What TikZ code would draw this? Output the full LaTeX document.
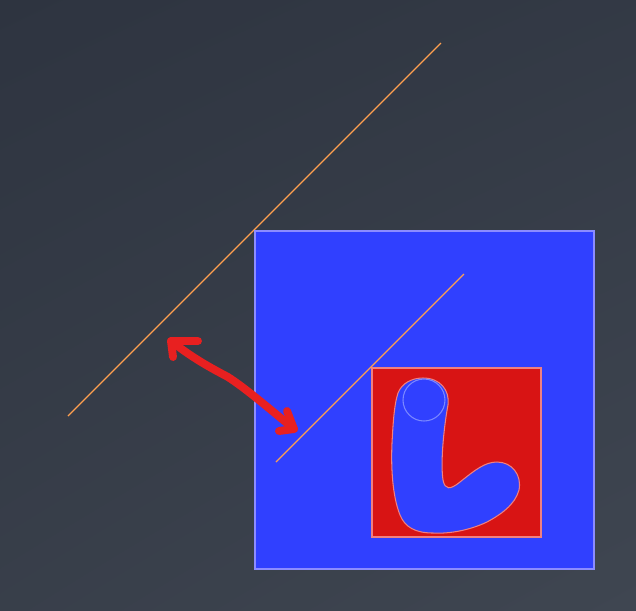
\documentclass[tikz,border=0pt]{standalone}
\usepackage{xcolor}
\usepackage{tikz}
\usetikzlibrary{shadings}
\definecolor{bgdark}{HTML}{2E3440}
\definecolor{bglight}{HTML}{3F4651}
\definecolor{raybeam}{HTML}{FFA050}
\definecolor{outerblue}{HTML}{3040FF}
\definecolor{outeredge}{HTML}{8C8CFF}
\definecolor{innerred}{HTML}{D81414}
\definecolor{inneredge}{HTML}{F08080}
\definecolor{ringedge}{HTML}{7A88FF}
\definecolor{markred}{HTML}{E82020}
\tikzset{
    ray/.style = {draw=raybeam, line width=0.7pt},
    outerbox/.style = {fill=outerblue, draw=outeredge, line width=0.6pt},
    innerbox/.style = {fill=innerred, draw=inneredge, line width=0.6pt},
    blob/.style = {fill=outerblue, draw=inneredge, line width=0.6pt},
    ring/.style = {draw=ringedge, line width=0.6pt},
    scribble/.style = {draw=markred, line width=4.5pt, line cap=round, line join=round}
}
\begin{document}
\begin{tikzpicture}[x=0.02cm, y=-0.02cm]
% background
\shade[upper left=bgdark, upper right=bgdark!70!bglight, lower left=bgdark!40!bglight, lower right=bglight]
    (0,0) rectangle (636,610);
\useasboundingbox (0,0) rectangle (636,610);

% long line outside
\draw [ray] (68,416) -- (441,43);

% blue square
\draw [outerbox] (255,231) rectangle (594,569);
\draw [ray] (276,462) -- (464,274);

% red square with the bent shape
\draw [innerbox] (372,368) rectangle (541,537);
\draw [blob] (423,378)
    .. controls (440,378) and (450,390) .. (448,405)
    .. controls (445,420) and (440,460) .. (443,480)
    .. controls (445,490) and (450,490) .. (460,482)
    .. controls (475,470) and (485,462) .. (497,462)
    .. controls (512,462) and (522,475) .. (519,490)
    .. controls (515,505) and (500,515) .. (487,522)
    .. controls (470,530) and (450,534) .. (433,533)
    .. controls (415,533) and (405,527) .. (400,515)
    .. controls (392,495) and (391,465) .. (392,443)
    .. controls (393,425) and (394,405) .. (398,393)
    .. controls (402,383) and (412,378) .. (423,378) -- cycle;
\draw [ring] (424,400) circle (21);

% hand drawn double arrow
\coordinate (tipA) at (171,341);
\coordinate (tipB) at (294,429);
\draw [scribble] (tipA) .. controls (195,360) and (215,370) .. (228,377)
    .. controls (245,388) and (265,405) .. (tipB);
\draw [scribble] (198,341) -- (tipA) -- (173,357);
\draw [scribble] (287,411) -- (tipB) -- (279,431);
\end{tikzpicture}
\end{document}
